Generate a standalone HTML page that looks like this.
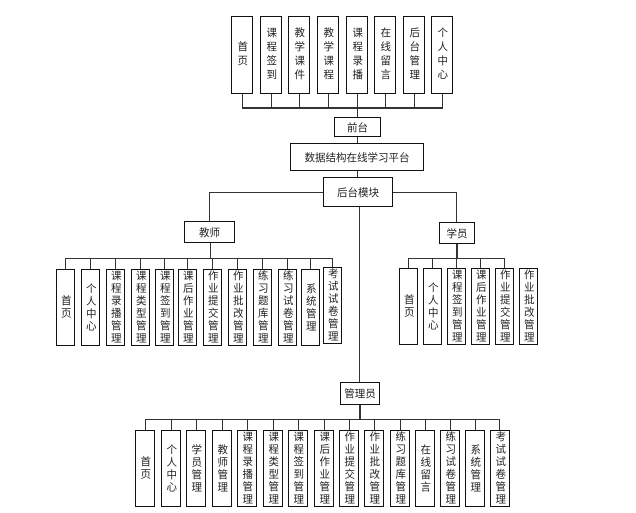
<!DOCTYPE html>
<html><head><meta charset="utf-8"><style>
body{margin:0;width:636px;height:513px;background:#fff;position:relative;overflow:hidden;font-family:"Liberation Sans","Noto Sans CJK SC",sans-serif;}
.b{position:absolute;border:1px solid #111;box-sizing:border-box;background:#fff;display:flex;align-items:center;justify-content:center;font-size:10.5px;color:#222;}
.v{writing-mode:vertical-rl;text-orientation:upright;letter-spacing:2px;line-height:1;}
.t .v{letter-spacing:3.5px;}
.l{position:absolute;background:#333;}
.h{height:1px}.w{width:1px}
</style></head><body>
<div class="t">
<div class="b" style="left:231px;top:16px;width:22px;height:78px"><span class="v">首页</span></div>
<div class="b" style="left:260px;top:16px;width:22px;height:78px"><span class="v">课程签到</span></div>
<div class="b" style="left:288px;top:16px;width:22px;height:78px"><span class="v">教学课件</span></div>
<div class="b" style="left:317px;top:16px;width:22px;height:78px"><span class="v">教学课程</span></div>
<div class="b" style="left:346px;top:16px;width:22px;height:78px"><span class="v">课程录播</span></div>
<div class="b" style="left:374px;top:16px;width:22px;height:78px"><span class="v">在线留言</span></div>
<div class="b" style="left:403px;top:16px;width:22px;height:78px"><span class="v">后台管理</span></div>
<div class="b" style="left:431px;top:16px;width:22px;height:78px"><span class="v">个人中心</span></div>
</div>
<div class="l w" style="left:242px;top:94px;height:13px"></div>
<div class="l w" style="left:271px;top:94px;height:13px"></div>
<div class="l w" style="left:299px;top:94px;height:13px"></div>
<div class="l w" style="left:328px;top:94px;height:13px"></div>
<div class="l w" style="left:357px;top:94px;height:13px"></div>
<div class="l w" style="left:385px;top:94px;height:13px"></div>
<div class="l w" style="left:414px;top:94px;height:13px"></div>
<div class="l w" style="left:442px;top:94px;height:13px"></div>
<div class="l h" style="left:242px;top:107px;width:201px;height:2px"></div>
<div class="l w" style="left:357px;top:107px;height:10px"></div>
<div class="b" style="left:334px;top:117px;width:47px;height:20px">前台</div>
<div class="l w" style="left:357px;top:137px;height:6px"></div>
<div class="b" style="left:290px;top:143px;width:134px;height:28px">数据结构在线学习平台</div>
<div class="l w" style="left:357px;top:171px;height:6px"></div>
<div class="b" style="left:323px;top:177px;width:70px;height:30px">后台模块</div>
<div class="l h" style="left:209px;top:192px;width:114px"></div>
<div class="l w" style="left:209px;top:192px;height:29px"></div>
<div class="l h" style="left:393px;top:192px;width:64px"></div>
<div class="l w" style="left:456px;top:192px;height:30px"></div>
<div class="l w" style="left:359px;top:207px;height:175px"></div>
<div class="b" style="left:184px;top:221px;width:51px;height:22px">教师</div>
<div class="l w" style="left:210px;top:243px;height:15px"></div>
<div class="l h" style="left:65px;top:258px;width:268px"></div>
<div class="b" style="left:56px;top:269px;width:19px;height:77px"><span class="v">首页</span></div>
<div class="b" style="left:81px;top:269px;width:19px;height:77px"><span class="v">个人中心</span></div>
<div class="b" style="left:106px;top:269px;width:19px;height:77px"><span class="v">课程录播管理</span></div>
<div class="b" style="left:131px;top:269px;width:19px;height:77px"><span class="v">课程类型管理</span></div>
<div class="b" style="left:155px;top:269px;width:19px;height:77px"><span class="v">课程签到管理</span></div>
<div class="b" style="left:178px;top:269px;width:19px;height:77px"><span class="v">课后作业管理</span></div>
<div class="b" style="left:203px;top:269px;width:19px;height:77px"><span class="v">作业提交管理</span></div>
<div class="b" style="left:228px;top:269px;width:19px;height:77px"><span class="v">作业批改管理</span></div>
<div class="b" style="left:253px;top:269px;width:19px;height:77px"><span class="v">练习题库管理</span></div>
<div class="b" style="left:278px;top:269px;width:19px;height:77px"><span class="v">练习试卷管理</span></div>
<div class="b" style="left:301px;top:269px;width:19px;height:77px"><span class="v">系统管理</span></div>
<div class="b" style="left:323px;top:267px;width:19px;height:77px"><span class="v">考试试卷管理</span></div>
<div class="l w" style="left:65px;top:258px;height:11px"></div>
<div class="l w" style="left:90px;top:258px;height:11px"></div>
<div class="l w" style="left:115px;top:258px;height:11px"></div>
<div class="l w" style="left:140px;top:258px;height:11px"></div>
<div class="l w" style="left:164px;top:258px;height:11px"></div>
<div class="l w" style="left:187px;top:258px;height:11px"></div>
<div class="l w" style="left:212px;top:258px;height:11px"></div>
<div class="l w" style="left:237px;top:258px;height:11px"></div>
<div class="l w" style="left:262px;top:258px;height:11px"></div>
<div class="l w" style="left:287px;top:258px;height:11px"></div>
<div class="l w" style="left:310px;top:258px;height:11px"></div>
<div class="l w" style="left:332px;top:258px;height:9px"></div>
<div class="b" style="left:439px;top:222px;width:36px;height:22px">学员</div>
<div class="l w" style="left:456px;top:244px;height:14px;width:2px"></div>
<div class="l h" style="left:408px;top:258px;width:97px"></div>
<div class="b" style="left:399px;top:268px;width:19px;height:77px"><span class="v">首页</span></div>
<div class="b" style="left:423px;top:268px;width:19px;height:77px"><span class="v">个人中心</span></div>
<div class="b" style="left:447px;top:268px;width:19px;height:77px"><span class="v">课程签到管理</span></div>
<div class="b" style="left:471px;top:268px;width:19px;height:77px"><span class="v">课后作业管理</span></div>
<div class="b" style="left:495px;top:268px;width:19px;height:77px"><span class="v">作业提交管理</span></div>
<div class="b" style="left:519px;top:268px;width:19px;height:77px"><span class="v">作业批改管理</span></div>
<div class="l w" style="left:408px;top:258px;height:10px"></div>
<div class="l w" style="left:432px;top:258px;height:10px"></div>
<div class="l w" style="left:456px;top:258px;height:10px"></div>
<div class="l w" style="left:480px;top:258px;height:10px"></div>
<div class="l w" style="left:504px;top:258px;height:10px"></div>
<div class="b" style="left:340px;top:382px;width:40px;height:23px">管理员</div>
<div class="l w" style="left:359px;top:405px;height:14px;width:2px"></div>
<div class="l h" style="left:145px;top:419px;width:354px"></div>
<div class="b" style="left:135px;top:430px;width:20px;height:77px"><span class="v">首页</span></div>
<div class="b" style="left:161px;top:430px;width:20px;height:77px"><span class="v">个人中心</span></div>
<div class="b" style="left:186px;top:430px;width:20px;height:77px"><span class="v">学员管理</span></div>
<div class="b" style="left:212px;top:430px;width:20px;height:77px"><span class="v">教师管理</span></div>
<div class="b" style="left:237px;top:430px;width:20px;height:77px"><span class="v">课程录播管理</span></div>
<div class="b" style="left:263px;top:430px;width:20px;height:77px"><span class="v">课程类型管理</span></div>
<div class="b" style="left:288px;top:430px;width:20px;height:77px"><span class="v">课程签到管理</span></div>
<div class="b" style="left:314px;top:430px;width:20px;height:77px"><span class="v">课后作业管理</span></div>
<div class="b" style="left:339px;top:430px;width:20px;height:77px"><span class="v">作业提交管理</span></div>
<div class="b" style="left:364px;top:430px;width:20px;height:77px"><span class="v">作业批改管理</span></div>
<div class="b" style="left:390px;top:430px;width:20px;height:77px"><span class="v">练习题库管理</span></div>
<div class="b" style="left:415px;top:430px;width:20px;height:77px"><span class="v">在线留言</span></div>
<div class="b" style="left:440px;top:430px;width:20px;height:77px"><span class="v">练习试卷管理</span></div>
<div class="b" style="left:465px;top:430px;width:20px;height:77px"><span class="v">系统管理</span></div>
<div class="b" style="left:490px;top:430px;width:20px;height:77px"><span class="v">考试试卷管理</span></div>
<div class="l w" style="left:145px;top:419px;height:11px"></div>
<div class="l w" style="left:171px;top:419px;height:11px"></div>
<div class="l w" style="left:196px;top:419px;height:11px"></div>
<div class="l w" style="left:222px;top:419px;height:11px"></div>
<div class="l w" style="left:247px;top:419px;height:11px"></div>
<div class="l w" style="left:273px;top:419px;height:11px"></div>
<div class="l w" style="left:298px;top:419px;height:11px"></div>
<div class="l w" style="left:324px;top:419px;height:11px"></div>
<div class="l w" style="left:349px;top:419px;height:11px"></div>
<div class="l w" style="left:374px;top:419px;height:11px"></div>
<div class="l w" style="left:400px;top:419px;height:11px"></div>
<div class="l w" style="left:425px;top:419px;height:11px"></div>
<div class="l w" style="left:450px;top:419px;height:11px"></div>
<div class="l w" style="left:475px;top:419px;height:11px"></div>
<div class="l w" style="left:499px;top:419px;height:11px"></div>
</body></html>
